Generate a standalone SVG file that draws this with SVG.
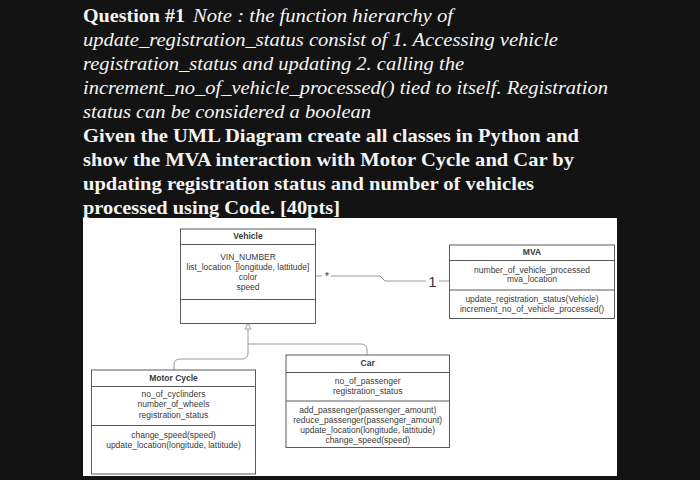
<svg xmlns="http://www.w3.org/2000/svg" width="700" height="480" viewBox="0 0 700 480">
<style>
.q{font-family:"Liberation Serif","Times New Roman",Times,serif;font-size:19px;fill:#f4f4f4}
.b{font-weight:bold}
.i{font-style:italic}
.box{fill:#fff;stroke:#5a5a5a;stroke-width:1}
.sep{stroke:#5a5a5a;stroke-width:1}
.t{font-family:"Liberation Sans",Arial,sans-serif;font-size:8.5px;fill:#3a3a3a;text-anchor:middle}
.h{font-weight:bold}
.ln{fill:none;stroke:#9a9a9a;stroke-width:1}
.m{font-family:"Liberation Sans",Arial,sans-serif;fill:#3a3a3a;text-anchor:middle}
</style>
<rect x="0" y="0" width="700" height="480" fill="#131313"/>
<g id="question">
<text class="q b" x="83" y="22" textLength="102" lengthAdjust="spacingAndGlyphs">Question #1</text>
<text class="q i" x="193" y="22" textLength="260" lengthAdjust="spacingAndGlyphs">Note : the function hierarchy of</text>
<text class="q i" x="83" y="46" textLength="475" lengthAdjust="spacingAndGlyphs">update_registration_status consist of 1. Accessing vehicle</text>
<text class="q i" x="83" y="70" textLength="381" lengthAdjust="spacingAndGlyphs">registration_status and updating 2. calling the</text>
<text class="q i" x="83" y="94" textLength="525" lengthAdjust="spacingAndGlyphs">increment_no_of_vehicle_processed() tied to itself. Registration</text>
<text class="q i" x="83" y="118" textLength="288" lengthAdjust="spacingAndGlyphs">status can be considered a boolean</text>
<text class="q b" x="83" y="142" textLength="496" lengthAdjust="spacingAndGlyphs">Given the UML Diagram create all classes in Python and</text>
<text class="q b" x="83" y="166" textLength="491" lengthAdjust="spacingAndGlyphs">show the MVA interaction with Motor Cycle and Car by</text>
<text class="q b" x="83" y="190" textLength="451" lengthAdjust="spacingAndGlyphs">updating registration status and number of vehicles</text>
<text class="q b" x="83" y="214" textLength="257" lengthAdjust="spacingAndGlyphs">processed using Code. [40pts]</text>
</g>
<rect x="83" y="218" width="534" height="258" fill="#ffffff"/>
<g id="connectors">
<path class="ln" d="M315.5,276 H322"/>
<path class="ln" d="M331,276 H380 L385,281 H426"/>
<path class="ln" d="M439,281 H449"/>
<text class="m" x="327" y="280" font-size="11">*</text>
<text class="m" x="432.5" y="286.5" font-size="15">1</text>
<path class="ln" d="M248,329 V353 Q248,359 242,359 H180 Q174,359 174,365 V370"/>
<path class="ln" d="M248,344 H361 Q367,344 367,350 V355"/>
<path d="M248,323.5 L245,329 L251,329 Z" fill="#fff" stroke="#9a9a9a" stroke-width="1"/>
</g>
<g id="vehicle">
<rect class="box" x="180.5" y="229" width="135" height="94.5"/>
<line class="sep" x1="180.5" y1="244.5" x2="315.5" y2="244.5"/>
<line class="sep" x1="180.5" y1="299.5" x2="315.5" y2="299.5"/>
<text class="t h" x="248" y="239">Vehicle</text>
<text class="t" x="248" y="259.5">VIN_NUMBER</text>
<text class="t" x="248" y="269.5">list_location&#160; [longitude, lattitude]</text>
<text class="t" x="248" y="279.5">color</text>
<text class="t" x="248" y="289.5">speed</text>
</g>
<g id="mva">
<rect class="box" x="449.5" y="245" width="165" height="73.5"/>
<line class="sep" x1="449.5" y1="260.5" x2="614.5" y2="260.5"/>
<line class="sep" x1="449.5" y1="290" x2="614.5" y2="290"/>
<text class="t h" x="532" y="254.5">MVA</text>
<text class="t" x="532" y="272.5">number_of_vehicle_processed</text>
<text class="t" x="532" y="282">mva_location</text>
<text class="t" x="532" y="301.5">update_registration_status(Vehicle)</text>
<text class="t" x="532" y="312">increment_no_of_vehicle_processed()</text>
</g>
<g id="motorcycle">
<rect class="box" x="91.5" y="370" width="164" height="104"/>
<line class="sep" x1="91.5" y1="386.5" x2="255.5" y2="386.5"/>
<line class="sep" x1="91.5" y1="425.5" x2="255.5" y2="425.5"/>
<text class="t h" x="173.5" y="380.5">Motor Cycle</text>
<text class="t" x="173.5" y="397">no_of_cyclinders</text>
<text class="t" x="173.5" y="407">number_of_wheels</text>
<text class="t" x="173.5" y="417.5">registration_status</text>
<text class="t" x="173.5" y="437.5">change_speed(speed)</text>
<text class="t" x="173.5" y="447.5">update_location(longitude, lattitude)</text>
</g>
<g id="car">
<rect class="box" x="286" y="355" width="163.5" height="92.5"/>
<line class="sep" x1="286" y1="372.5" x2="449.5" y2="372.5"/>
<line class="sep" x1="286" y1="401" x2="449.5" y2="401"/>
<text class="t h" x="367.7" y="366">Car</text>
<text class="t" x="367.7" y="384">no_of_passenger</text>
<text class="t" x="367.7" y="394">registration_status</text>
<text class="t" x="367.7" y="413">add_passenger(passenger_amount)</text>
<text class="t" x="367.7" y="423">reduce_passenger(passenger_amount)</text>
<text class="t" x="367.7" y="433">update_location(longitude, lattitude)</text>
<text class="t" x="367.7" y="442.5">change_speed(speed)</text>
</g>
</svg>
